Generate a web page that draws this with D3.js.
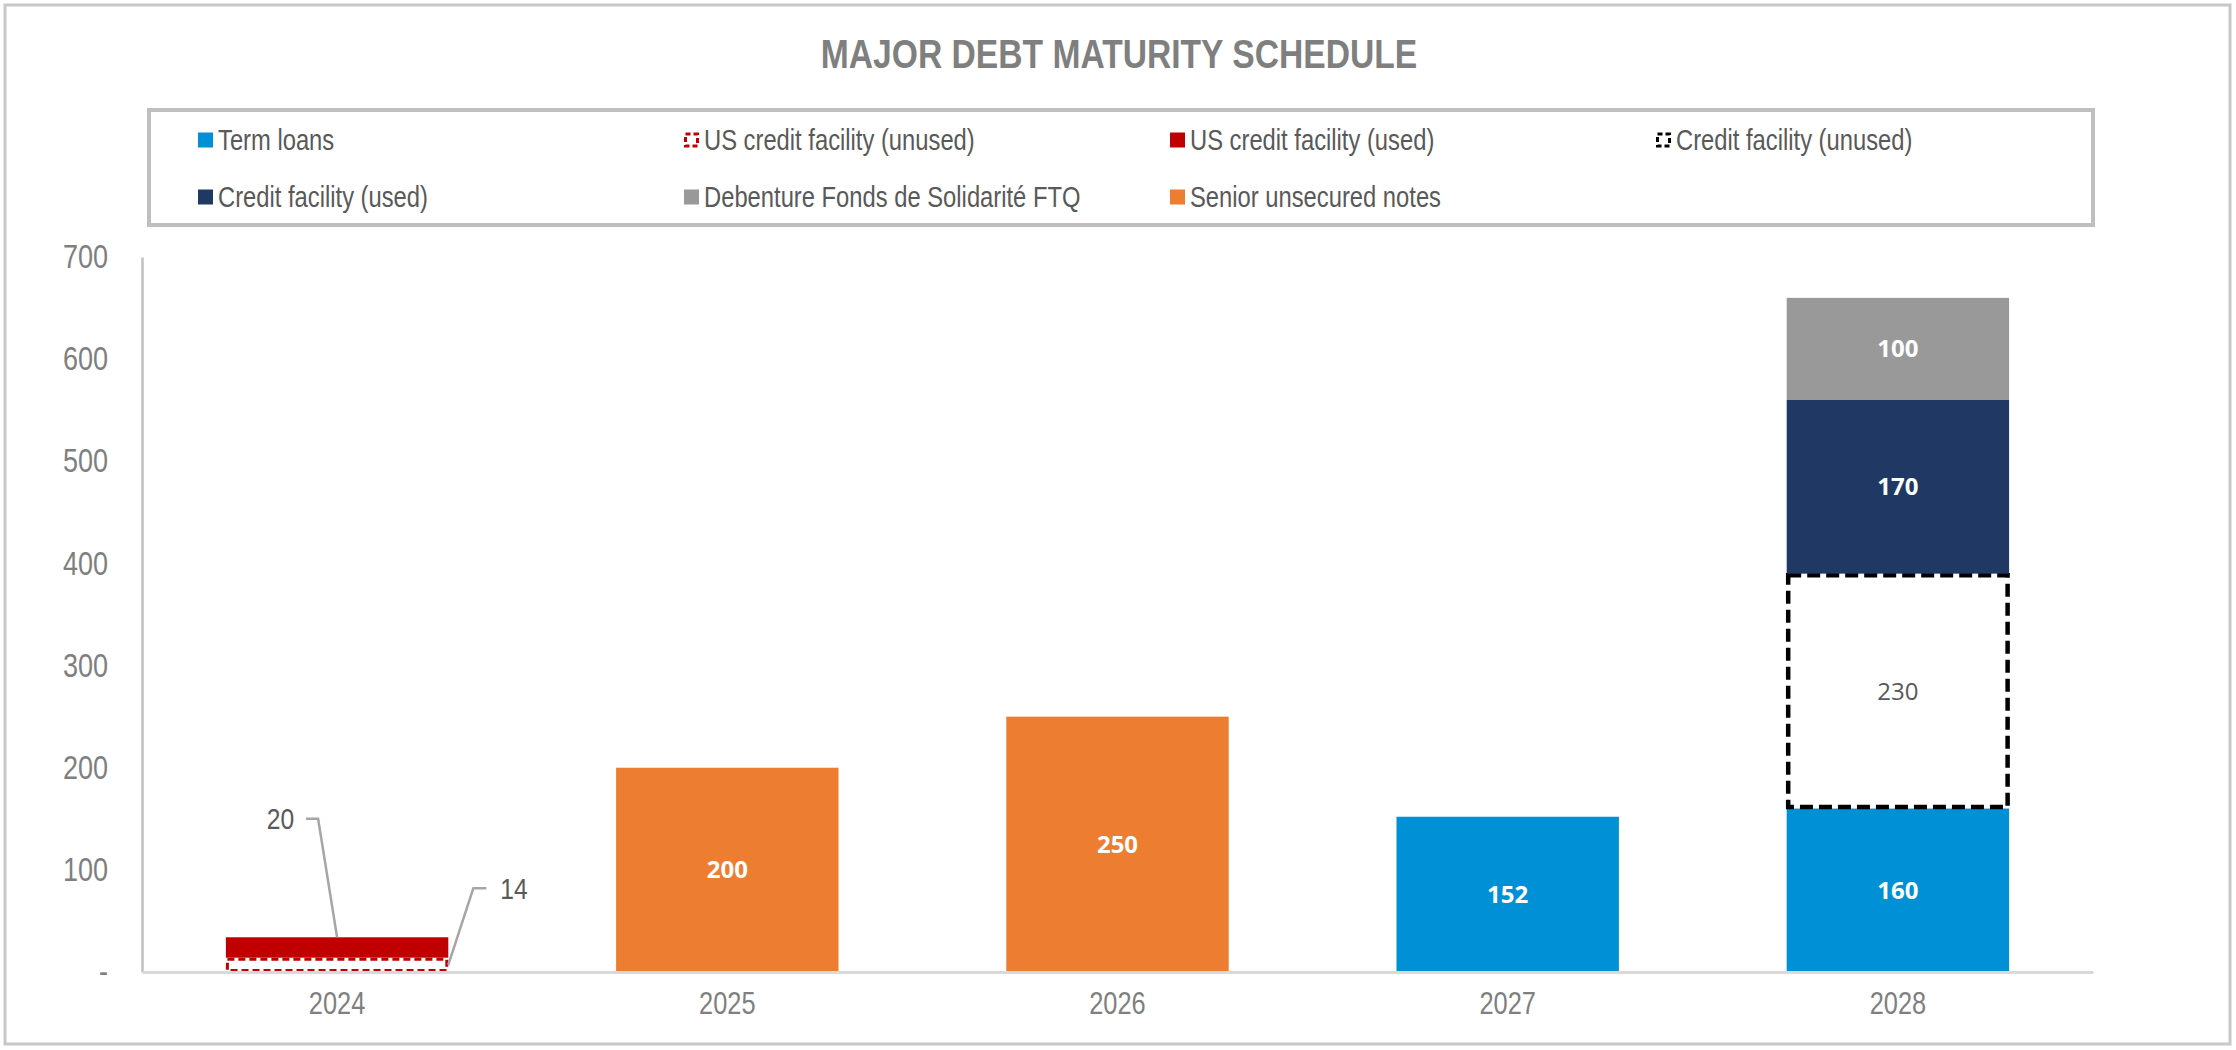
<!DOCTYPE html>
<html>
<head>
<meta charset="utf-8">
<script src="https://cdn.jsdelivr.net/npm/d3@7"></script>
<style>
  body { margin: 0; background: #fff; }
  .narrow { font-family: "Liberation Sans", Arial, sans-serif; }
  .lbl { font-family: "Open Sans", "Noto Sans", sans-serif; }
</style>
</head>
<body>
<div id="chart"></div>
<script>
// Chart data
const YEARS = ["2024", "2025", "2026", "2027", "2028"];
const SERIES = ["Term loans", "US credit facility (unused)", "US credit facility (used)",
  "Credit facility (unused)", "Credit facility (used)", "Debenture Fonds de Solidarité FTQ",
  "Senior unsecured notes"];
const TERM_LOANS = [0, 0, 0, 152, 160];
const US_CREDIT_UNUSED = [14, 0, 0, 0, 0];
const US_CREDIT_USED = [20, 0, 0, 0, 0];
const CREDIT_UNUSED = [0, 0, 0, 0, 230];
const CREDIT_USED = [0, 0, 0, 0, 170];
const DEBENTURE = [0, 0, 0, 0, 100];
const SENIOR_NOTES = [0, 200, 250, 0, 0];
const Y_TICKS = [0, 100, 200, 300, 400, 500, 600, 700];

const VALUES = [TERM_LOANS, US_CREDIT_UNUSED, US_CREDIT_USED, CREDIT_UNUSED, CREDIT_USED, DEBENTURE, SENIOR_NOTES];
const COLORS = ["#0090d6", "#ffffff", "#c00000", "#ffffff", "#203864", "#999999", "#ed7d31"];

// Constants for the frame
const FRAME_WIDTH = 2236;
const FRAME_HEIGHT = 1050;
const PLOT = {left: 142, right: 2093, top: 257, bottom: 972};
const NARROW = 0.82; // squeeze Liberation Sans to look like Arial Narrow

const FRAME = d3.select("#chart")
  .append("svg")
  .attr("width", FRAME_WIDTH)
  .attr("height", FRAME_HEIGHT);

// helper: narrow text placed at x,y
function narrowText(parent, x, y) {
  return parent.append("g")
    .attr("transform", "translate(" + x + "," + y + ") scale(" + NARROW + ",1)")
    .append("text")
    .attr("class", "narrow");
}

// outer border
FRAME.append("rect")
  .attr("x", 5).attr("y", 5)
  .attr("width", 2225).attr("height", 1039)
  .attr("fill", "#fff")
  .attr("stroke", "#c8c8c8")
  .attr("stroke-width", 3);

// title
narrowText(FRAME, FRAME_WIDTH / 2 + 1, 68)
  .attr("text-anchor", "middle")
  .attr("font-size", "41px")
  .attr("font-weight", "bold")
  .attr("fill", "#7f7f7f")
  .text("MAJOR DEBT MATURITY SCHEDULE");

// build table for stacking
const table = YEARS.map((y, i) => {
  const row = {year: y};
  SERIES.forEach((s, j) => { row[s] = VALUES[j][i]; });
  return row;
});
const stacked = d3.stack().keys(SERIES)(table);

const X_SCALE = d3.scaleBand()
  .domain(YEARS)
  .range([PLOT.left, PLOT.right])
  .paddingInner(0.43)
  .paddingOuter(0.215);

const Y_SCALE = d3.scaleLinear()
  .domain([0, 700])
  .range([PLOT.bottom, PLOT.top]);

// y axis
const yAxis = FRAME.append("g")
  .attr("transform", "translate(" + PLOT.left + ",0)")
  .call(d3.axisLeft(Y_SCALE).tickValues(Y_TICKS).tickSize(0).tickPadding(34 / NARROW)
    .tickFormat(d => d === 0 ? "-" : d));
yAxis.select(".domain").attr("stroke", "#bfbfbf").attr("stroke-width", 2.5);
yAxis.selectAll("text")
  .attr("class", "narrow")
  .attr("transform", "scale(" + NARROW + ",1)")
  .attr("font-size", "33px")
  .attr("fill", "#7f7f7f");

// bars
const groups = FRAME.selectAll(".series")
  .data(stacked)
  .enter()
  .append("g")
  .attr("class", "series");

groups.each(function(layer, j) {
  const unused = (j === 1 || j === 3);
  d3.select(this).selectAll("rect")
    .data(layer.filter(d => d[1] - d[0] > 0))
    .enter()
    .append("rect")
    .attr("x", d => X_SCALE(d.data.year) + (unused ? 1.5 : 0))
    .attr("y", d => Y_SCALE(d[1]) + (unused ? 1.5 : 0))
    .attr("width", X_SCALE.bandwidth() - (unused ? 3 : 0))
    .attr("height", d => Y_SCALE(d[0]) - Y_SCALE(d[1]) - (unused ? 3 : 0))
    .attr("fill", COLORS[j])
    .attr("stroke", unused ? (j === 1 ? "#c00000" : "#000") : "none")
    .attr("stroke-width", unused ? (j === 1 ? 3 : 4.5) : 0)
    .attr("stroke-dasharray", unused ? (j === 1 ? "7,4" : "13,6") : null);
});

// x axis (drawn over bars)
const xAxis = FRAME.append("g")
  .attr("transform", "translate(0," + PLOT.bottom + ")")
  .call(d3.axisBottom(X_SCALE).tickSize(0).tickPadding(20));
xAxis.select(".domain").attr("stroke", "#d9d9d9").attr("stroke-width", 3);
xAxis.selectAll("text")
  .attr("class", "narrow")
  .attr("transform", "scale(" + NARROW + ",1)")
  .attr("font-size", "31px")
  .attr("fill", "#7f7f7f");

// labels inside bars (skip 2024, shown with callouts)
groups.each(function(layer, j) {
  const unused = (j === 1 || j === 3);
  d3.select(this).selectAll("text")
    .data(layer.filter(d => d[1] - d[0] > 0 && d.data.year !== "2024"))
    .enter()
    .append("text")
    .attr("class", "lbl")
    .attr("x", d => X_SCALE(d.data.year) + X_SCALE.bandwidth() / 2)
    .attr("y", d => Y_SCALE((d[0] + d[1]) / 2))
    .attr("dy", "0.35em")
    .attr("text-anchor", "middle")
    .attr("font-size", "24px")
    .attr("font-weight", unused ? "normal" : "bold")
    .attr("fill", unused ? "#595959" : "#fff")
    .text(d => d[1] - d[0]);
});

// callouts for 2024
const x24 = X_SCALE("2024");
const bw = X_SCALE.bandwidth();
const usedSeg = stacked[2][0];
const unusedSeg = stacked[1][0];
const callouts = [
  {seg: usedSeg, ax: x24 + bw / 2, ay: Y_SCALE(usedSeg[1]), ex: x24 + bw / 2 - 19, ey: Y_SCALE(150),
    hx: -12, tx: -12, anchor: "end"},
  {seg: unusedSeg, ax: x24 + bw, ay: Y_SCALE((unusedSeg[0] + unusedSeg[1]) / 2), ex: x24 + bw + 25, ey: Y_SCALE(82),
    hx: 13, tx: 14, anchor: "start"}
];
callouts.forEach(c => {
  FRAME.append("path")
    .attr("d", "M" + c.ax + "," + c.ay + "L" + c.ex + "," + c.ey + "L" + (c.ex + c.hx) + "," + c.ey)
    .attr("fill", "none")
    .attr("stroke", "#a6a6a6")
    .attr("stroke-width", 2.5);
  narrowText(FRAME, c.ex + c.tx + c.hx, c.ey)
    .attr("dy", "0.35em")
    .attr("text-anchor", c.anchor)
    .attr("font-size", "30px")
    .attr("fill", "#595959")
    .text(c.seg[1] - c.seg[0]);
});

// legend
FRAME.append("rect")
  .attr("x", 149).attr("y", 110)
  .attr("width", 1944).attr("height", 115)
  .attr("fill", "#fff")
  .attr("stroke", "#bfbfbf")
  .attr("stroke-width", 4);

const legend = FRAME.selectAll(".legend")
  .data(SERIES)
  .enter()
  .append("g")
  .attr("class", "legend")
  .attr("transform", (d, i) => "translate(" + (198 + (i % 4) * 486) + "," + (140 + Math.floor(i / 4) * 57) + ")");

legend.append("rect")
  .attr("x", (d, i) => (i === 1 || i === 3) ? 1.5 : 0)
  .attr("y", (d, i) => (i === 1 || i === 3) ? -6 : -7.5)
  .attr("width", (d, i) => (i === 1 || i === 3) ? 12 : 15)
  .attr("height", (d, i) => (i === 1 || i === 3) ? 12 : 15)
  .attr("fill", (d, i) => COLORS[i])
  .attr("stroke", (d, i) => i === 1 ? "#c00000" : (i === 3 ? "#000" : "none"))
  .attr("stroke-width", (d, i) => (i === 1 || i === 3) ? 3 : 0)
  .attr("stroke-dasharray", (d, i) => (i === 1 || i === 3) ? "5,3" : null);

legend.append("g")
  .attr("transform", "translate(20,0) scale(" + NARROW + ",1)")
  .append("text")
  .attr("class", "narrow")
  .attr("dy", "0.35em")
  .attr("font-size", "29px")
  .attr("fill", "#595959")
  .text(d => d);
</script>
</body>
</html>
